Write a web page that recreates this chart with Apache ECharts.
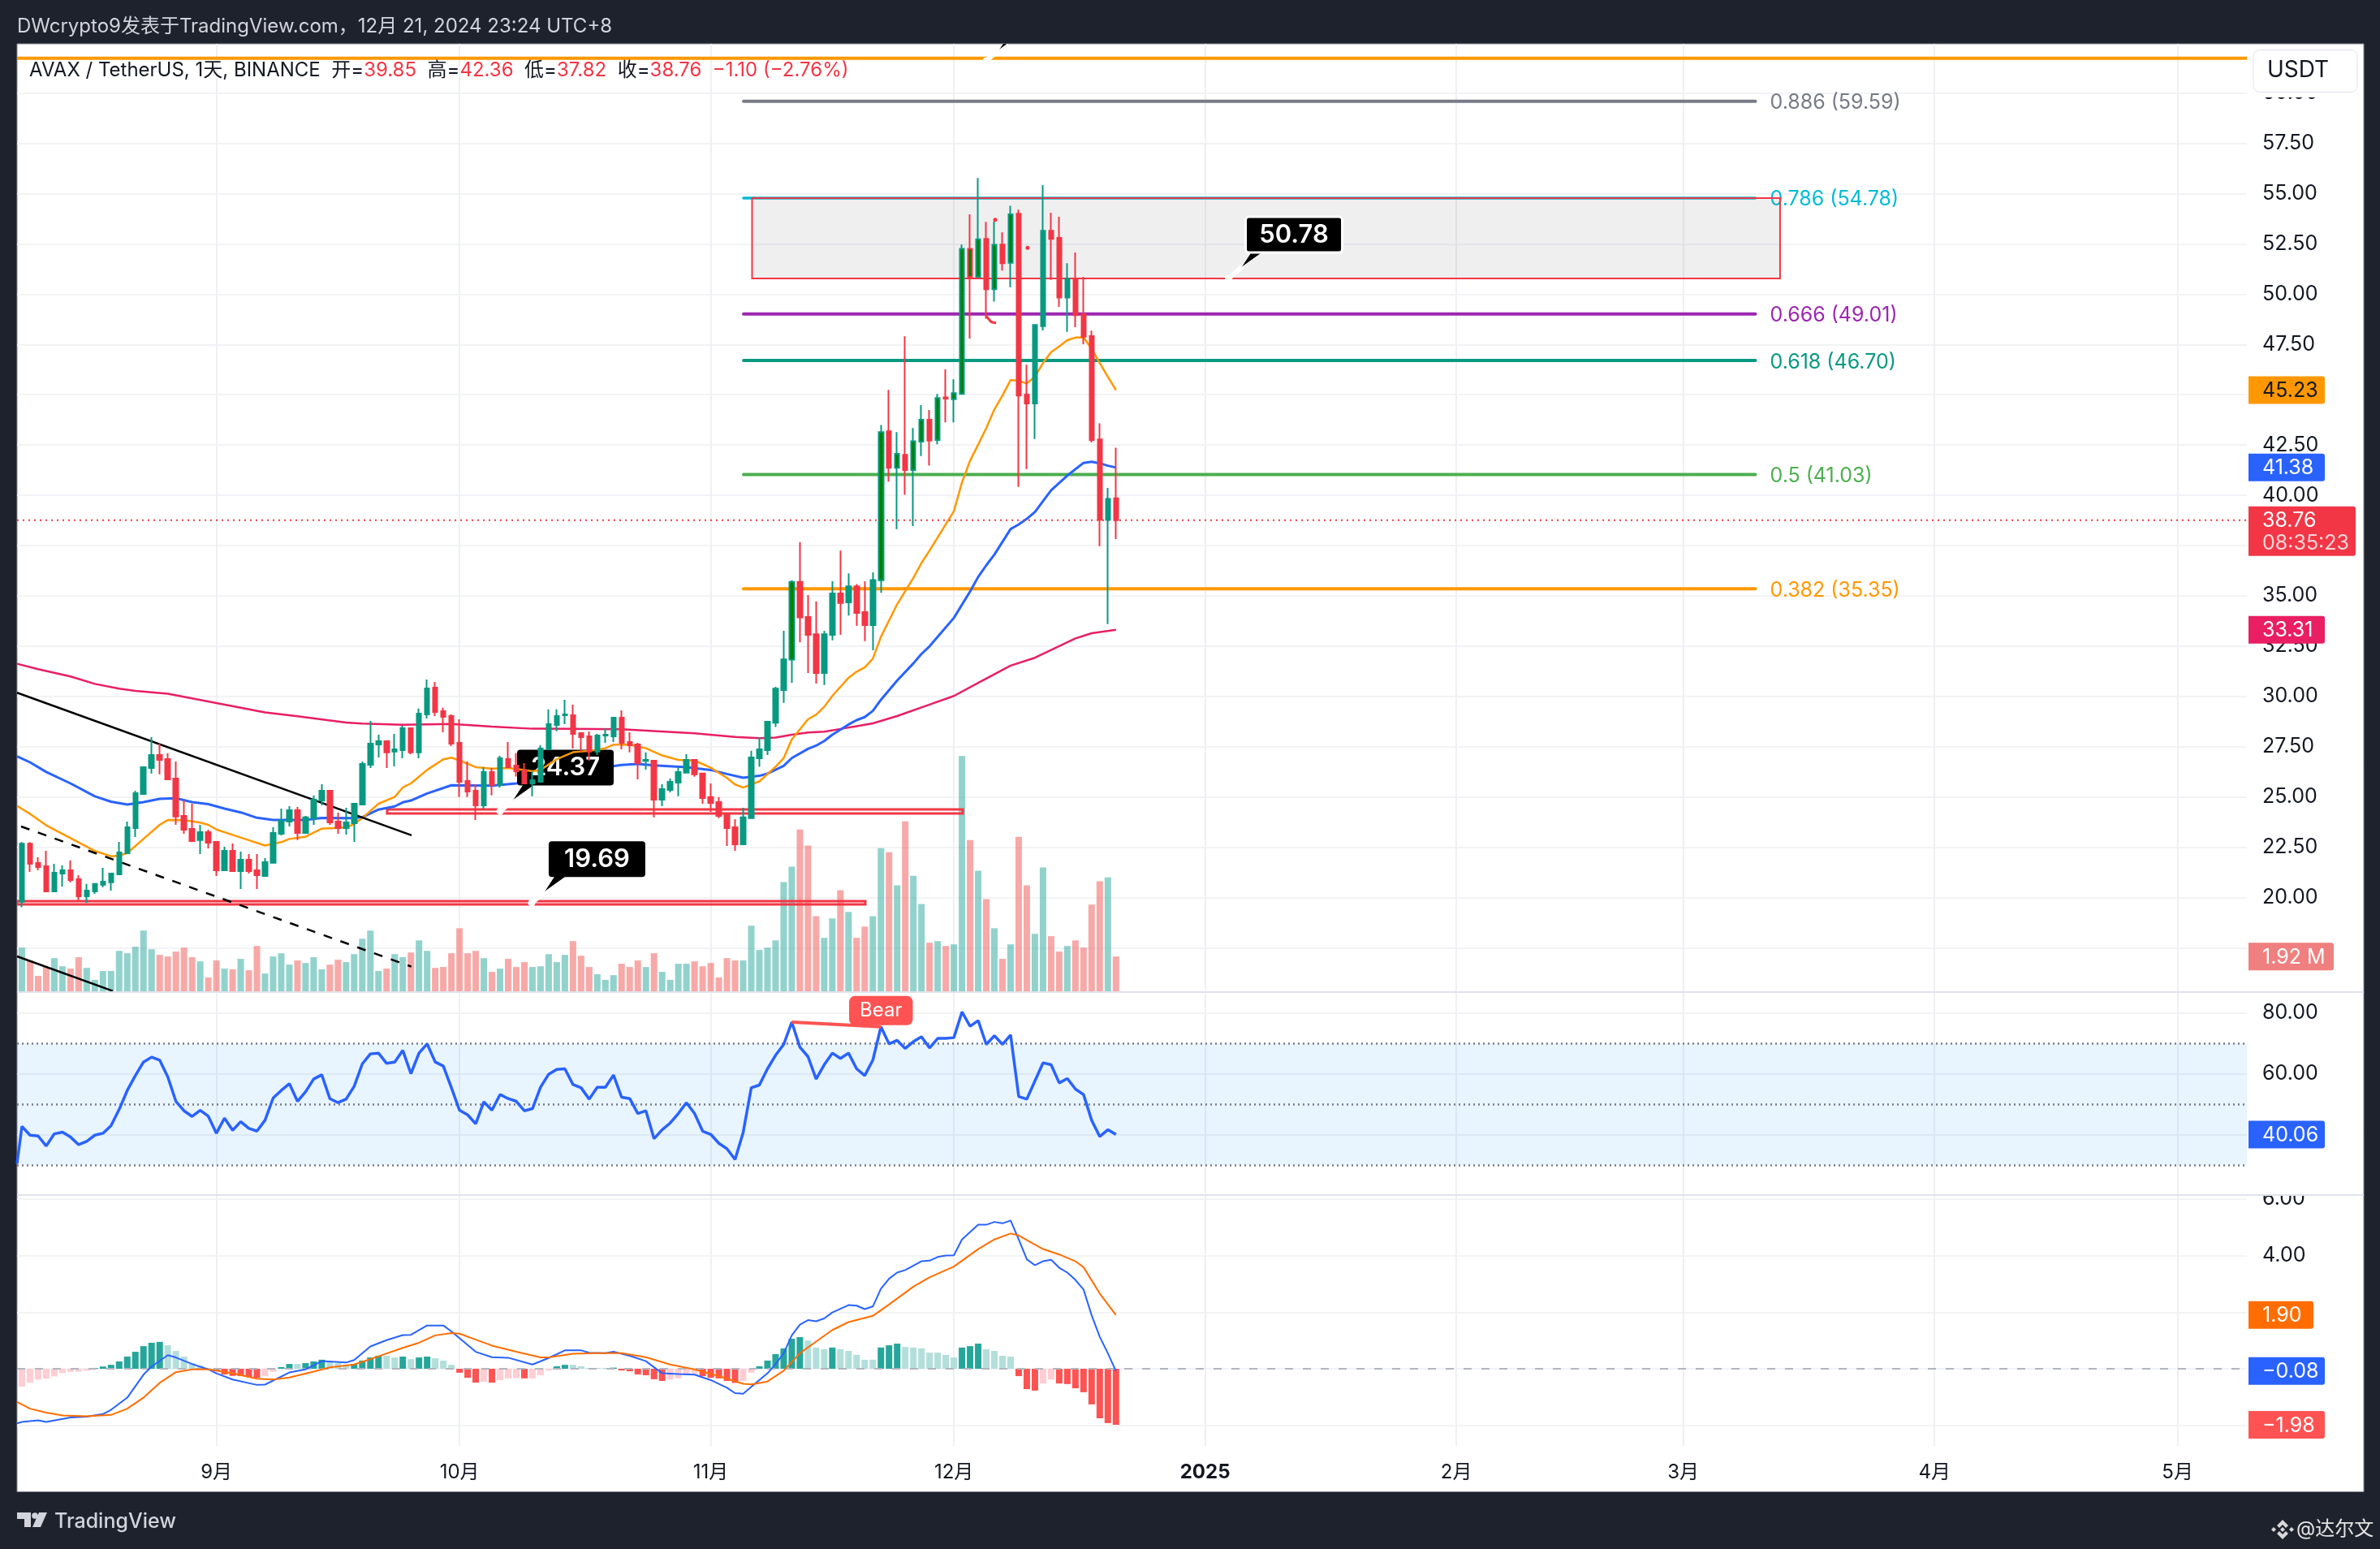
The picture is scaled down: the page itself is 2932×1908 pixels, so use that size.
<!DOCTYPE html>
<html>
<head>
<meta charset="utf-8">
<title>AVAX / TetherUS</title>
<script src="https://cdn.jsdelivr.net/npm/echarts@6/dist/echarts.min.js"></script>
<style>
  html, body { margin: 0; padding: 0; background: #1e222d; }
  #main { width: 2932px; height: 1908px; }
</style>
</head>
<body>
<div id="main"></div>
<script>
// --- fiyat verisi (her mum 8 Ağu 2024'ten itibaren gün indeksi ile) ---
const opens = [
  19.79,22.67,21.71,21.55,20.30,21.19,21.35,20.91,20.06,20.30,
  20.63,20.75,21.15,22.20,23.45,25.15,26.44,27.08,26.88,25.91,
  24.06,23.41,22.85,23.25,22.76,21.35,22.32,21.31,21.88,21.35,
  21.07,21.72,23.17,23.77,24.34,23.21,23.94,24.82,25.31,23.77,
  23.45,23.69,24.62,26.60,27.61,27.77,27.25,27.33,28.42,27.21,
  29.10,30.43,29.26,29.02,27.69,25.79,25.31,24.58,26.24,25.59,
  26.88,26.56,26.32,25.67,25.75,27.37,28.58,29.06,29.06,28.17,
  28.01,27.25,28.05,28.01,28.94,27.73,27.61,26.79,26.80,24.86,
  25.35,25.71,26.20,26.84,26.16,24.99,24.74,24.10,23.49,22.64,
  23.94,26.92,27.33,28.69,30.31,31.83,35.69,33.95,33.09,31.16,
  33.06,35.12,34.67,35.47,34.19,33.54,35.77,43.18,41.36,42.01,
  41.25,42.67,43.76,42.75,44.87,44.78,45.04,52.25,50.86,52.75,
  50.25,52.47,51.56,54.00,45.01,44.56,48.41,53.15,52.80,49.83,
  50.76,49.00,47.91,42.78,38.78,39.85];
const closes = [
  22.67,21.67,21.51,20.30,21.23,21.35,20.87,20.06,20.34,20.67,
  20.79,21.19,22.24,23.49,25.19,26.48,27.08,26.84,25.87,24.02,
  23.37,22.80,23.25,22.72,21.35,22.32,21.31,21.88,21.31,21.11,
  21.75,23.21,23.81,24.34,23.21,23.98,24.86,25.31,23.73,23.45,
  23.73,24.66,26.64,27.65,27.77,27.21,27.37,28.42,27.21,29.14,
  30.39,29.22,28.98,27.65,25.75,25.27,24.58,26.24,25.59,26.92,
  26.48,26.28,25.67,25.83,27.41,28.62,29.02,29.10,28.13,27.97,
  27.25,28.05,28.09,28.94,27.69,27.57,26.68,26.84,24.86,25.39,
  25.75,26.24,26.84,26.12,24.94,24.70,24.06,23.45,22.64,23.98,
  26.96,27.37,28.74,30.38,31.84,35.69,33.93,33.06,31.16,33.09,
  35.12,34.64,35.47,34.15,33.54,35.78,43.14,41.36,42.06,41.25,
  42.69,43.76,42.72,44.84,44.81,45.08,52.25,50.86,52.73,50.25,
  52.46,51.54,53.97,44.96,44.56,48.47,53.15,52.75,49.83,50.76,
  48.95,47.88,42.75,38.78,39.82,38.76];
const highs = [
  22.75,22.75,22.00,22.32,21.67,21.59,21.84,21.11,20.67,20.67,
  21.47,21.23,22.76,23.77,25.31,26.48,27.97,27.65,27.17,26.76,
  24.82,24.66,23.61,23.37,22.76,22.52,22.68,22.28,22.16,22.16,
  21.96,23.49,24.42,24.54,24.50,24.06,25.07,25.63,25.35,24.22,
  24.46,24.70,26.76,28.78,28.09,27.77,28.13,28.54,28.46,29.39,
  30.84,30.72,29.43,29.10,28.86,26.76,25.63,26.48,26.44,27.04,
  27.73,27.17,26.68,26.28,27.57,29.35,29.35,29.83,29.59,28.17,
  28.25,28.13,28.41,28.98,29.30,28.21,27.69,27.21,26.84,25.63,
  25.91,26.48,27.12,26.88,26.16,25.67,24.99,24.18,23.89,24.46,
  27.29,27.97,28.78,30.47,33.26,35.77,37.67,35.04,34.72,33.26,
  35.72,37.25,36.12,35.58,35.72,36.17,43.49,45.24,43.14,47.90,
  43.34,44.48,44.24,45.04,46.26,45.76,52.47,53.97,55.78,53.60,
  53.62,53.07,54.39,54.20,46.49,48.47,55.42,54.05,53.85,51.54,
  52.07,50.86,48.19,43.57,40.36,42.36];
const lows = [
  19.51,21.27,21.35,20.30,20.26,20.54,20.75,19.78,19.74,20.18,
  20.50,20.34,21.11,22.20,23.01,25.15,26.16,26.12,25.87,23.61,
  23.17,22.76,22.16,22.44,21.07,21.35,21.31,20.42,21.19,20.42,
  21.03,21.68,23.09,23.53,22.85,23.21,23.61,24.58,23.61,23.17,
  23.13,22.76,24.62,26.44,26.96,26.44,26.52,26.92,27.12,26.92,
  28.90,29.02,28.21,27.53,24.99,24.99,23.85,24.42,25.07,25.47,
  26.48,26.01,25.67,25.03,25.71,27.37,28.26,28.62,27.41,27.22,
  26.80,27.08,27.69,27.73,27.37,27.21,25.87,26.36,23.98,24.54,
  25.23,25.03,26.16,26.00,24.66,24.26,23.94,22.56,22.32,22.60,
  23.94,26.50,27.08,28.48,29.68,30.68,32.68,31.16,30.64,30.56,
  32.79,33.06,34.02,33.50,32.74,32.29,35.15,40.68,38.32,40.02,
  38.47,41.95,41.48,42.54,43.63,43.63,45.01,47.79,50.83,48.78,
  49.63,51.17,50.35,40.42,41.30,42.80,48.20,50.71,49.37,48.13,
  48.36,47.51,42.63,37.47,33.59,37.82];
// iç dolgusu koyu yeşil olan mumlar
const insideBars = [95,106,108,110,111,113,115,116,117,118,120,122];

// hacim (milyon)
const volumes = [
  2.41,1.70,0.85,1.34,1.83,1.38,1.25,1.88,1.29,0.63,
  1.12,1.12,2.23,2.10,2.46,3.35,2.32,2.01,1.92,2.19,
  2.41,1.88,1.65,0.76,1.70,1.25,1.21,1.79,1.16,2.50,
  0.98,1.92,2.10,1.47,1.70,1.56,1.88,1.21,1.47,1.74,
  1.61,2.05,2.90,3.35,1.12,1.25,2.05,1.88,2.14,2.81,
  2.23,1.29,1.34,2.10,3.48,2.10,2.23,1.83,1.07,1.25,
  1.79,1.34,1.61,1.34,1.38,2.05,1.61,2.01,2.77,1.96,
  1.34,0.94,0.63,0.89,1.52,1.34,1.70,1.34,2.10,1.07,
  0.63,1.52,1.52,1.65,1.38,1.56,0.76,1.83,1.70,1.70,
  3.62,2.28,2.41,2.81,6.03,6.88,8.93,8.04,4.15,2.95,
  4.02,5.58,4.38,2.95,3.57,4.15,7.90,7.68,5.85,9.38,
  6.38,4.82,2.68,2.77,2.50,2.59,12.99,8.35,6.65,5.09,
  3.48,1.79,2.59,8.53,5.85,3.17,6.83,3.04,2.19,2.50,
  2.81,2.41,4.78,6.07,6.29,1.92];

// hareketli ortalamalar: [gün indeksi, değer]
const emaFast = [[-0.6,24.55],[1,24.16],[3,23.59],[6,22.95],[9,22.31],[11,22.05],[12,22.08],[13,22.21],[15,22.91],[17,23.61],[18,23.85],[20,23.84],[22,23.72],[23,23.61],[24,23.38],[26,23.11],[28,22.85],[30,22.58],[32,22.75],[33,22.91],[35,23.02],[37,23.42],[40,23.48],[41,23.65],[42,23.95],[44,24.66],[46,25.0],[47,25.47],[48,25.67],[50,26.34],[52,26.87],[53,26.95],[54,26.81],[56,26.48],[58,26.41],[60,26.44],[62,26.34],[63,26.28],[64,26.34],[66,26.88],[68,27.22],[70,27.29],[72,27.42],[73,27.6],[75,27.6],[77,27.42],[79,27.06],[81,26.84],[83,26.81],[85,26.45],[87,25.94],[88,25.62],[89,25.46],[91,25.77],[93,26.5],[94,26.93],[95,27.86],[97,28.86],[98,29.09],[99,29.48],[100,30.02],[102,30.92],[103,31.23],[104,31.44],[105,31.87],[106,32.96],[108,34.58],[110,35.89],[111,36.63],[112,37.25],[115,39.21],[116,40.64],[117,41.72],[118,42.52],[119,43.34],[120,44.27],[121,44.96],[122,45.73],[123,45.69],[124,45.56],[125,45.89],[126,46.58],[127,47.12],[128,47.4],[129,47.71],[130,47.84],[131,47.85],[132,47.28],[133,46.58],[134,45.89],[135,45.23]];
const emaMid = [[-0.6,27.02],[1,26.72],[3,26.24],[6,25.67],[9,25.03],[11,24.76],[13,24.62],[15,24.74],[17,24.9],[19,24.93],[21,24.74],[23,24.64],[25,24.42],[27,24.23],[29,23.96],[31,23.85],[35,23.85],[37,23.95],[41,23.94],[42,23.99],[44,24.37],[46,24.53],[47,24.73],[48,24.82],[50,25.17],[53,25.58],[58,25.56],[61,25.67],[64,25.87],[68,26.21],[72,26.48],[74,26.59],[76,26.64],[78,26.57],[82,26.48],[85,26.34],[87,26.14],[89,25.95],[91,26.05],[92,26.16],[94,26.54],[95,26.93],[97,27.39],[98,27.55],[99,27.78],[100,28.09],[102,28.6],[103,28.82],[104,28.97],[105,29.28],[106,29.83],[108,30.79],[110,31.64],[111,32.11],[112,32.49],[115,33.9],[117,35.22],[118,35.94],[119,36.52],[120,37.05],[122,38.32],[123,38.55],[124,38.83],[125,39.17],[127,40.25],[129,40.98],[131,41.61],[132,41.67],[133,41.59],[134,41.47],[135,41.38]];
const emaSlow = [[-0.6,31.62],[2,31.35],[6,30.99],[9,30.62],[12,30.38],[14,30.27],[18,30.13],[24,29.67],[30,29.2],[34,29.01],[40,28.7],[42,28.65],[47,28.59],[53,28.63],[58,28.5],[63,28.39],[68,28.38],[74,28.36],[78,28.27],[83,28.16],[88,27.98],[91,27.92],[93,27.95],[95,28.09],[97,28.2],[99,28.24],[101,28.38],[103,28.52],[105,28.66],[108,29.02],[112,29.59],[115,30.02],[118,30.67],[122,31.53],[125,31.92],[127,32.31],[130,32.88],[132,33.14],[135,33.31]];

// RSI (i=0'dan 135'e), sol kenardaki ilk nokta ayrı
const rsiAtLeftEdge = 30.47;
const rsiValues = [
  42.68,39.83,39.56,36.26,40.27,40.81,39.20,36.71,37.78,39.83,
  40.45,42.95,48.29,54.53,59.44,63.89,65.50,64.52,58.99,50.97,
  47.85,45.98,48.03,46.07,40.45,45.44,41.43,44.28,42.05,41.16,
  44.73,52.04,54.53,56.76,50.97,54.09,58.28,59.70,51.86,50.52,
  51.68,55.87,63.27,66.57,66.83,63.45,63.89,67.72,60.06,66.83,
  69.86,63.89,62.55,55.42,48.03,46.51,43.57,50.79,48.03,53.20,
  51.86,50.97,47.85,48.56,55.60,59.88,61.48,61.66,56.49,55.42,
  51.68,55.60,55.60,59.61,52.31,51.86,46.96,47.85,38.67,41.61,
  43.84,46.96,50.52,46.96,41.16,40.09,37.15,35.37,31.81,40.72,
  55.42,56.32,61.66,66.12,69.68,77.00,68.79,65.67,58.28,62.99,
  66.83,65.05,66.83,61.66,59.44,64.52,75.48,69.86,71.02,68.35,
  70.58,72.18,68.53,71.65,71.65,71.91,80.38,75.66,77.53,69.68,
  72.54,69.68,72.80,52.57,51.68,57.65,63.62,63.00,57.03,58.46,
  54.98,53.20,44.73,39.38,41.61,40.06];
const rsiLevels = [70, 50, 30];
const bearPoints = [[95,77.0],[106,75.48]];

// MACD
const macdHist = [
  -0.63,-0.49,-0.38,-0.35,-0.27,-0.15,-0.11,-0.10,-0.07,0.03,
  0.08,0.14,0.26,0.43,0.60,0.80,0.92,0.95,0.83,0.63,
  0.43,0.20,0.11,0.03,-0.07,-0.20,-0.25,-0.26,-0.29,-0.32,
  -0.26,-0.11,0.06,0.17,0.17,0.20,0.26,0.32,0.26,0.20,
  0.14,0.17,0.29,0.40,0.46,0.46,0.40,0.43,0.34,0.40,
  0.43,0.37,0.29,0.14,-0.14,-0.32,-0.49,-0.46,-0.49,-0.40,
  -0.34,-0.33,-0.34,-0.34,-0.23,-0.06,0.09,0.14,0.14,0.09,
  0.03,0.03,0.03,0.04,-0.06,-0.09,-0.20,-0.23,-0.37,-0.43,
  -0.38,-0.34,-0.23,-0.22,-0.26,-0.32,-0.34,-0.43,-0.50,-0.43,
  -0.14,0.09,0.29,0.52,0.72,1.06,1.12,1.00,0.75,0.69,
  0.75,0.69,0.63,0.49,0.32,0.32,0.75,0.83,0.89,0.77,
  0.75,0.72,0.57,0.57,0.49,0.40,0.75,0.80,0.89,0.69,
  0.63,0.46,0.43,-0.26,-0.72,-0.77,-0.52,-0.38,-0.52,-0.54,
  -0.69,-0.83,-1.26,-1.75,-1.92,-1.98];
const macdLine = [[-0.6,-1.93],[0,-1.88],[2,-1.82],[3,-1.88],[6,-1.72],[8,-1.69],[10,-1.6],[11,-1.45],[13,-1.02],[15,-0.21],[16,0.08],[18,0.48],[19,0.4],[21,0.17],[23,-0.02],[24,-0.16],[26,-0.38],[29,-0.57],[30,-0.56],[33,-0.13],[35,-0.02],[37,0.27],[40,0.22],[41,0.31],[43,0.79],[45,1.01],[47,1.19],[48,1.2],[50,1.53],[52,1.53],[53,1.32],[56,0.6],[58,0.41],[60,0.39],[63,0.15],[65,0.38],[67,0.65],[69,0.65],[70,0.57],[72,0.55],[73,0.6],[75,0.46],[77,0.27],[79,-0.16],[81,-0.19],[83,-0.21],[85,-0.4],[87,-0.67],[88,-0.86],[89,-0.88],[90,-0.64],[92,-0.16],[93,0.17],[94,0.55],[95,1.18],[96,1.56],[97,1.72],[98,1.68],[99,1.78],[100,1.99],[102,2.25],[103,2.23],[104,2.11],[105,2.2],[106,2.83],[107,3.18],[108,3.4],[109,3.49],[111,3.8],[112,3.82],[113,3.95],[114,4.0],[115,4.01],[116,4.57],[118,5.09],[119,5.09],[120,5.19],[121,5.14],[122,5.24],[123,4.57],[124,3.87],[125,3.66],[126,3.8],[127,3.85],[128,3.57],[129,3.4],[130,3.14],[131,2.8],[132,1.89],[133,1.13],[134,0.55],[135,-0.08]];
const macdSignal = [[-0.6,-1.17],[1,-1.41],[3,-1.55],[5,-1.65],[8,-1.68],[11,-1.63],[13,-1.41],[15,-1.02],[17,-0.5],[19,-0.12],[21,-0.02],[23,-0.02],[26,-0.16],[29,-0.35],[31,-0.38],[33,-0.31],[36,-0.1],[38,0.05],[41,0.15],[43,0.34],[47,0.74],[49,0.92],[51,1.18],[53,1.26],[54,1.24],[56,1.03],[58,0.82],[61,0.6],[64,0.4],[65,0.4],[68,0.53],[71,0.55],[74,0.55],[77,0.41],[80,0.15],[83,-0.02],[86,-0.26],[89,-0.53],[90,-0.55],[92,-0.45],[94,-0.07],[96,0.55],[98,0.96],[100,1.37],[102,1.65],[105,1.87],[107,2.27],[110,2.9],[112,3.23],[115,3.61],[118,4.23],[120,4.57],[122,4.78],[123,4.71],[126,4.23],[128,4.04],[130,3.8],[131,3.59],[133,2.66],[135,1.9]];

// fibonacci seviyeleri
const fibRatios = ['0.886','0.786','0.666','0.618','0.5','0.382'];
const fibPrices = [59.59,54.78,49.01,46.70,41.03,35.35];
const fibColors = ['#787b86','#00bcd4','#9c27b0','#089981','#4caf50','#ff9800'];
const fibStart = 89.05, fibEnd = 213.9;
const topLevel = 61.73;
const lastPrice = 38.76;

// kutu ve kanallar: [x0, x1, üst, alt]
const zoneBox = [90.1, 216.95, 54.78, 50.78];
const channels = [[-0.6, 104.07, 19.82, 19.64], [45.07, 116.1, 24.37, 24.19]];
// callout etiketleri
const calloutX = [62.9, 59, 148.9, 119];
const calloutPrice = [19.73, 24.28, 50.78, 61.6];
const calloutText = ['19.69', '24.37', '50.78', '61.73'];
// eğilim çizgileri
const trendMain = [[-0.6,30.18],[48.08,23.09]];
const trendDashed = [[-0.1,23.53],[48.05,16.56]];
const trendLow = [[-0.6,17.07],[11.2,15.35]];
const scribble = [[119,48.9],[119.6,48.62],[120.2,48.56]];
const scribbleDots = [[120.1,53.7],[124.1,52.3]];

// eksen işaretleri
const priceGridTicks = [17.5,20,22.5,25,27.5,30,32.5,35,37.5,40,42.5,45,47.5,50,52.5,55,57.5,60];
const priceLabelTicks = [20,22.5,25,27.5,30,32.5,35,37.5,40,42.5,45,47.5,50,52.5,55,57.5,60];
const rsiTicks = [40,60,80];
const macdTicks = [-2,0,2,4,6];
const monthIdx = [24,54,85,115,146,177,205,236,266];
const monthNames = ['9月','10月','11月','12月','{b|2025}','2月','3月','4月','5月'];

// sağ eksendeki değer kutuları
const priceBadges = [45.23,41.38,38.76,33.31];
const priceBadgeColors = ['#ff9800','#2962ff','#f23645','#e91e63'];
const volumeBadge = [1.92];
const rsiBadge = [40.06];
const macdBadges = [1.90,-0.08,-1.98];
const macdBadgeColors = ['#ff6d00','#2962ff','#ff5252'];
const countdown = '08:35:23';

const FONT = 'Inter, "Noto Sans CJK SC", sans-serif';
const TXT = '#131722';
const GRID_C = '#f2f3f5';
const UP = '#089981', DOWN = '#f23645';
const X_MIN = -0.6, X_MAX = 274.55;
const AXIS_X = 2770;   // kutuların sol kenarı

const candleData = opens.map((o, i) => {
  const item = { value: [i, o, closes[i], lows[i], highs[i]] };
  if (insideBars.includes(i)) item.itemStyle = { color: '#008000', color0: '#008000' };
  return item;
});
const volumeData = volumes.map((v, i) => ({
  value: [i, v],
  itemStyle: { color: closes[i] >= opens[i] ? 'rgba(38,166,154,.5)' : 'rgba(239,83,80,.5)' }
}));
const rsiData = [[X_MIN, rsiAtLeftEdge]].concat(rsiValues.map((v, i) => [i, v]));
const histData = macdHist.map((v, i) => {
  const prev = i ? macdHist[i - 1] : v;
  let color;
  if (v >= 0) color = v > prev ? '#26a69a' : '#b2dfdb';
  else color = v < prev ? '#ff5252' : '#ffcdd2';
  return { value: [i, v], itemStyle: { color } };
});

function xAxisFor(gridIndex, showLabel) {
  return {
    type: 'value', gridIndex, min: X_MIN, max: X_MAX,
    axisLine: { show: false },
    axisTick: { show: false, customValues: monthIdx },
    splitLine: { show: true, lineStyle: { color: '#eff0f3', width: 2 } },
    axisLabel: {
      show: showLabel, customValues: monthIdx, margin: 20, hideOverlap: false,
      color: TXT, fontFamily: FONT, fontSize: 24,
      formatter: v => monthNames[monthIdx.indexOf(v)] || '',
      rich: { b: { fontWeight: 700, fontSize: 24, fontFamily: FONT, color: TXT } }
    }
  };
}
function yAxisFor(gridIndex, min, max, gridTicks, labelTicks) {
  return {
    type: 'value', gridIndex, position: 'right', min, max,
    axisLine: { show: false },
    axisTick: { show: false, customValues: gridTicks },
    splitLine: { show: true, lineStyle: { color: GRID_C, width: 2 } },
    axisLabel: {
      customValues: labelTicks || gridTicks, margin: 19, color: TXT, fontFamily: FONT, fontSize: 25,
      padding: [6, 0, 0, 0],
      formatter: v => v.toFixed(2)
    }
  };
}
function lineSeries(name, data, color, width, z, extra) {
  return Object.assign({
    name, type: 'line', data, z, xAxisIndex: 0, yAxisIndex: 0,
    showSymbol: false, silent: true, lineStyle: { color, width }
  }, extra || {});
}
// sağ eksen kutuları; y konumu eksen ölçeğinden gelir
function badgeSeries(name, xAxisIndex, yAxisIndex, values, colors, opts) {
  opts = opts || {};
  return {
    name, type: 'custom', xAxisIndex, yAxisIndex, z: 20, silent: true, clip: false,
    data: values.map(v => [0, v]),
    encode: { x: 0, y: 1 },
    renderItem(params, api) {
      const v = api.value(1);
      const y = api.coord([0, v])[1];
      const label = (opts.format || (n => n.toFixed(2)))(v).replace('-', '\u2212');
      const w = opts.width ? opts.width(v) : 94;
      const color = colors[params.dataIndex];
      if (v === lastPrice && yAxisIndex === 0) {
        return { type: 'group', children: [
          { type: 'rect', shape: { x: AXIS_X, y: y - 17, width: 132, height: 61, r: [0, 3, 3, 0] }, style: { fill: color } },
          { type: 'text', style: { text: label, x: AXIS_X + 17, y: y + 1, fill: '#fff', fontFamily: FONT, fontSize: 25, verticalAlign: 'middle' } },
          { type: 'text', style: { text: countdown, x: AXIS_X + 17, y: y + 29, fill: '#fcd5d9', fontFamily: FONT, fontSize: 25, verticalAlign: 'middle' } }
        ] };
      }
      return { type: 'group', children: [
        { type: 'rect', shape: { x: AXIS_X, y: y - 17, width: w, height: 34, r: [0, 3, 3, 0] }, style: { fill: color } },
        { type: 'text', style: { text: label, x: AXIS_X + 17, y: y + 1, fill: opts.textColor ? opts.textColor(v) : '#fff', fontFamily: FONT, fontSize: 25, verticalAlign: 'middle' } }
      ] };
    }
  };
}

const option = {
  backgroundColor: '#1e222d',
  animation: false,
  grid: [
    { left: 21, right: 2932 - 2768, top: 54, height: 1167 },
    { left: 21, right: 2932 - 2768, top: 1222, height: 250 },
    { left: 21, right: 2932 - 2768, top: 1472, height: 309.5 }
  ],
  xAxis: [xAxisFor(0, false), xAxisFor(1, false), xAxisFor(2, true)],
  yAxis: [
    yAxisFor(0, 15.335, 62.448, priceGridTicks, priceLabelTicks),
    { type: 'value', gridIndex: 0, show: false, min: 0, max: 52.3, splitLine: { show: false } },
    yAxisFor(1, 20.13, 86.9, rsiTicks),
    yAxisFor(2, -2.74, 6.14, macdTicks)
  ],
  graphic: [
    // beyaz panel
    { type: 'rect', z: -10, shape: { x: 21, y: 54, width: 2891, height: 1783.5 }, style: { fill: '#fff', stroke: '#868993', lineWidth: 1 } },
    // başlık satırları
    { type: 'text', z: 100, style: { x: 21, y: 33, text: 'DWcrypto9发表于TradingView.com，12月 21, 2024 23:24 UTC+8', fill: '#d1d4dc', fontFamily: FONT, fontSize: 24, verticalAlign: 'middle' } },
    { type: 'text', z: 100, style: {
        x: 36, y: 87, verticalAlign: 'middle', fontFamily: FONT, fontSize: 24, fill: TXT,
        text: '{k|AVAX / TetherUS, 1天, BINANCE}  {k|开=}{r|39.85}  {k|高=}{r|42.36}  {k|低=}{r|37.82}  {k|收=}{r|38.76}  {r|\u22121.10 (\u22122.76%)}',
        rich: {
          k: { fill: TXT, fontFamily: FONT, fontSize: 24 },
          r: { fill: DOWN, fontFamily: FONT, fontSize: 24 }
        }
    } },
    // eksen üstündeki maskeler ve para birimi kutusu
    { type: 'rect', z: 50, shape: { x: 2770, y: 55, width: 141, height: 65 }, style: { fill: '#fff' } },
    { type: 'rect', z: 51, shape: { x: 2776, y: 61.5, width: 128, height: 52, r: 8 }, style: { fill: '#fff', stroke: '#e0e3eb', lineWidth: 1 } },
    { type: 'text', z: 52, style: { x: 2831, y: 87, text: 'USDT', align: 'center', verticalAlign: 'middle', fill: TXT, fontFamily: FONT, fontSize: 28 } },
    { type: 'rect', z: 50, shape: { x: 2770, y: 1458, width: 141, height: 13 }, style: { fill: '#fff' } },
    // pano ayraçları
    { type: 'rect', z: 60, shape: { x: 21, y: 1221, width: 2891, height: 2 }, style: { fill: '#e0e3eb' } },
    { type: 'rect', z: 60, shape: { x: 21, y: 1471, width: 2891, height: 2 }, style: { fill: '#e0e3eb' } },
    // TradingView logosu
    { type: 'polygon', z: 100, shape: { points: [[21,1863],[38,1863],[38,1881],[30,1881],[30,1871],[21,1871]] }, style: { fill: '#d1d4dc' } },
    { type: 'circle', z: 100, shape: { cx: 43, cy: 1867, r: 3.8 }, style: { fill: '#d1d4dc' } },
    { type: 'polygon', z: 100, shape: { points: [[48,1863],[58,1863],[50,1881],[40,1881]] }, style: { fill: '#d1d4dc' } },
    { type: 'text', z: 100, style: { x: 67, y: 1874, text: 'TradingView', fill: '#d1d4dc', fontFamily: FONT, fontSize: 25, fontWeight: 500, verticalAlign: 'middle' } },
    // sağ alt filigran
    { type: 'polygon', z: 100, shape: { points: [[2812,1872],[2819,1879],[2816,1882],[2812,1878],[2808,1882],[2805,1879]] }, style: { fill: '#d8d8d8' } },
    { type: 'polygon', z: 100, shape: { points: [[2812,1896],[2819,1889],[2816,1886],[2812,1890],[2808,1886],[2805,1889]] }, style: { fill: '#d8d8d8' } },
    { type: 'polygon', z: 100, shape: { points: [[2812,1881],[2815,1884],[2812,1887],[2809,1884]] }, style: { fill: '#d8d8d8' } },
    { type: 'polygon', z: 100, shape: { points: [[2801,1881],[2804,1884],[2801,1887],[2798,1884]] }, style: { fill: '#d8d8d8' } },
    { type: 'polygon', z: 100, shape: { points: [[2823,1881],[2826,1884],[2823,1887],[2820,1884]] }, style: { fill: '#d8d8d8' } },
    { type: 'text', z: 100, style: { x: 2829, y: 1884, text: '@达尔文', fill: '#e4e4e4', fontFamily: FONT, fontSize: 24, verticalAlign: 'middle' } }
  ],
  series: [
    // hacim
    { name: 'volume', type: 'bar', xAxisIndex: 0, yAxisIndex: 1, barWidth: 8, z: 1, silent: true, data: volumeData },
    // gri kutu
    {
      name: 'zone', type: 'custom', xAxisIndex: 0, yAxisIndex: 0, z: 2, silent: true, data: [zoneBox],
      renderItem(params, api) {
        const a = api.coord([api.value(0), api.value(2)]);
        const b = api.coord([api.value(1), api.value(3)]);
        return { type: 'rect', shape: { x: a[0], y: a[1], width: b[0] - a[0], height: b[1] - a[1] },
          style: { fill: 'rgba(120,123,134,.12)', stroke: DOWN, lineWidth: 2 } };
      }
    },
    // fibonacci çizgileri
    ...fibPrices.map((p, k) => lineSeries('fib' + fibRatios[k], [[fibStart, p], [fibEnd, p]], fibColors[k], 4, k === 1 ? 1.5 : 3, {
      lineStyle: { color: fibColors[k], width: k === 1 ? 3.5 : 4, cap: 'round' },
      endLabel: { show: true, distance: 18, offset: [0, 2], color: fibColors[k], fontFamily: FONT, fontSize: 25,
        formatter: fibRatios[k] + ' (' + p.toFixed(2) + ')' }
    })),
    lineSeries('level', [[X_MIN, topLevel], [X_MAX, topLevel]], '#ff9800', 4, 3),
    // kanallar: çizgiler net çıksın diye koordinatlar piksele yuvarlanır
    {
      name: 'channels', type: 'custom', xAxisIndex: 0, yAxisIndex: 0, z: 3, silent: true, clip: true, data: channels,
      renderItem(params, api) {
        const a = api.coord([api.value(0), api.value(2)]);
        const b = api.coord([api.value(1), api.value(3)]);
        const top = Math.round(a[1]), bottom = Math.round(b[1]);
        return { type: 'rect', shape: { x: a[0], y: top, width: b[0] - a[0], height: bottom - top },
          style: { fill: 'rgba(255,255,255,0)', stroke: DOWN, lineWidth: 3 } };
      }
    },
    lineSeries('ema-slow', emaSlow, '#e91e63', 2.5, 3),
    lineSeries('ema-mid', emaMid, '#2962ff', 3, 3),
    // callout kutuları
    {
      name: 'callouts', type: 'custom', xAxisIndex: 0, yAxisIndex: 0, z: 4, silent: true, clip: true,
      data: calloutX.map((x, k) => [x, calloutPrice[k]]),
      renderItem(params, api) {
        const c = api.coord([api.value(0), api.value(1)]);
        const x = c[0], y = c[1];
        const k = params.dataIndex;
        return { type: 'group', children: [
          { type: 'line', shape: { x1: x, y1: y, x2: x + 17, y2: y - 15 }, style: { stroke: '#fff', lineWidth: 6 } },
          { type: 'circle', shape: { cx: x, cy: y, r: 4.5 }, style: { fill: '#fff' } },
          { type: 'polygon', shape: { points: [[x + 15, y - 13], [x + 28, y - 33], [x + 43, y - 33]] }, style: { fill: '#000', stroke: '#fff', lineWidth: 1 } },
          { type: 'rect', shape: { x: x + 21, y: y - 76, width: 119, height: 44, r: 4 }, style: { fill: '#000', stroke: k === 2 ? '#fff' : 'rgba(255,255,255,0)', lineWidth: 3 } },
          { type: 'text', style: { text: calloutText[k], x: x + 80.5, y: y - 53.5, align: 'center', verticalAlign: 'middle', fill: '#fff', fontFamily: FONT, fontSize: 31, fontWeight: 600 } }
        ] };
      }
    },
    lineSeries('ema-fast', emaFast, '#ff9800', 2.5, 5),
    lineSeries('trend-main', trendMain, '#000', 2.5, 5),
    lineSeries('trend-dashed', trendDashed, '#000', 2.5, 5, { lineStyle: { color: '#000', width: 2.5, type: [11, 11] } }),
    lineSeries('trend-low', trendLow, '#000', 2.5, 5),
    lineSeries('last', [[X_MIN, lastPrice], [X_MAX, lastPrice]], DOWN, 2, 5, { lineStyle: { color: DOWN, width: 2, type: [2, 5] } }),
    // mumlar
    {
      name: 'AVAX', type: 'candlestick', xAxisIndex: 0, yAxisIndex: 0, z: 6, silent: true, barWidth: 6,
      itemStyle: { color: UP, color0: DOWN, borderColor: UP, borderColor0: DOWN, borderWidth: 2 },
      data: candleData
    },
    lineSeries('scribble', scribble, DOWN, 3, 7),
    { name: 'dots', type: 'scatter', xAxisIndex: 0, yAxisIndex: 0, z: 7, silent: true, symbolSize: 5, itemStyle: { color: DOWN, opacity: 1 }, data: scribbleDots },
    badgeSeries('price-badges', 0, 0, priceBadges, priceBadgeColors, { textColor: v => v === 45.23 ? TXT : '#fff' }),
    badgeSeries('vol-badge', 0, 1, volumeBadge, ['#f07f7f'], { format: n => n.toFixed(2) + ' M', width: () => 105 }),

    // RSI
    {
      name: 'rsi', type: 'line', xAxisIndex: 1, yAxisIndex: 2, z: 5, showSymbol: false, silent: true,
      data: rsiData, lineStyle: { color: '#2962ff', width: 3.5 },
      markArea: { silent: true, z: 1, itemStyle: { color: 'rgba(33,150,243,.1)' }, data: [[{ yAxis: 70 }, { yAxis: 30 }]] },
      markLine: { silent: true, symbol: 'none', label: { show: false }, z: 2,
        lineStyle: { color: '#787b86', width: 2.5, type: [2, 4], opacity: 1 }, data: rsiLevels.map(v => ({ yAxis: v })) }
    },
    { name: 'bear', type: 'line', xAxisIndex: 1, yAxisIndex: 2, z: 6, showSymbol: false, silent: true, data: bearPoints, lineStyle: { color: '#ff5252', width: 4 } },
    {
      name: 'bear-label', type: 'scatter', xAxisIndex: 1, yAxisIndex: 2, z: 7, silent: true, symbolSize: 0, clip: false,
      itemStyle: { opacity: 1 },
      data: [[bearPoints[1][0], 80.8]],
      label: { show: true, position: 'inside', formatter: 'Bear', color: '#fff', fontFamily: FONT, fontSize: 24, opacity: 1,
        backgroundColor: '#ff5252', borderRadius: 7, padding: [6, 13, 6, 13] }
    },
    badgeSeries('rsi-badge', 1, 2, rsiBadge, ['#2962ff']),

    // MACD
    { name: 'hist', type: 'bar', xAxisIndex: 2, yAxisIndex: 3, barWidth: 8, z: 2, silent: true, data: histData },
    {
      name: 'macd', type: 'line', xAxisIndex: 2, yAxisIndex: 3, z: 5, showSymbol: false, silent: true,
      data: macdLine, lineStyle: { color: '#2962ff', width: 2 },
      markLine: { silent: true, symbol: 'none', label: { show: false }, z: 3,
        lineStyle: { color: '#b2b5be', width: 2, type: [10, 12], opacity: 1 }, data: [{ yAxis: 0 }] }
    },
    { name: 'signal', type: 'line', xAxisIndex: 2, yAxisIndex: 3, z: 5, showSymbol: false, silent: true, data: macdSignal, lineStyle: { color: '#ff6d00', width: 2 } },
    badgeSeries('macd-badges', 2, 3, macdBadges, macdBadgeColors, { width: v => v === 1.90 ? 80 : 94 })
  ]
};

const chart = echarts.init(document.getElementById('main'), null, { renderer: 'canvas' });
chart.setOption(option);
</script>
</body>
</html>
